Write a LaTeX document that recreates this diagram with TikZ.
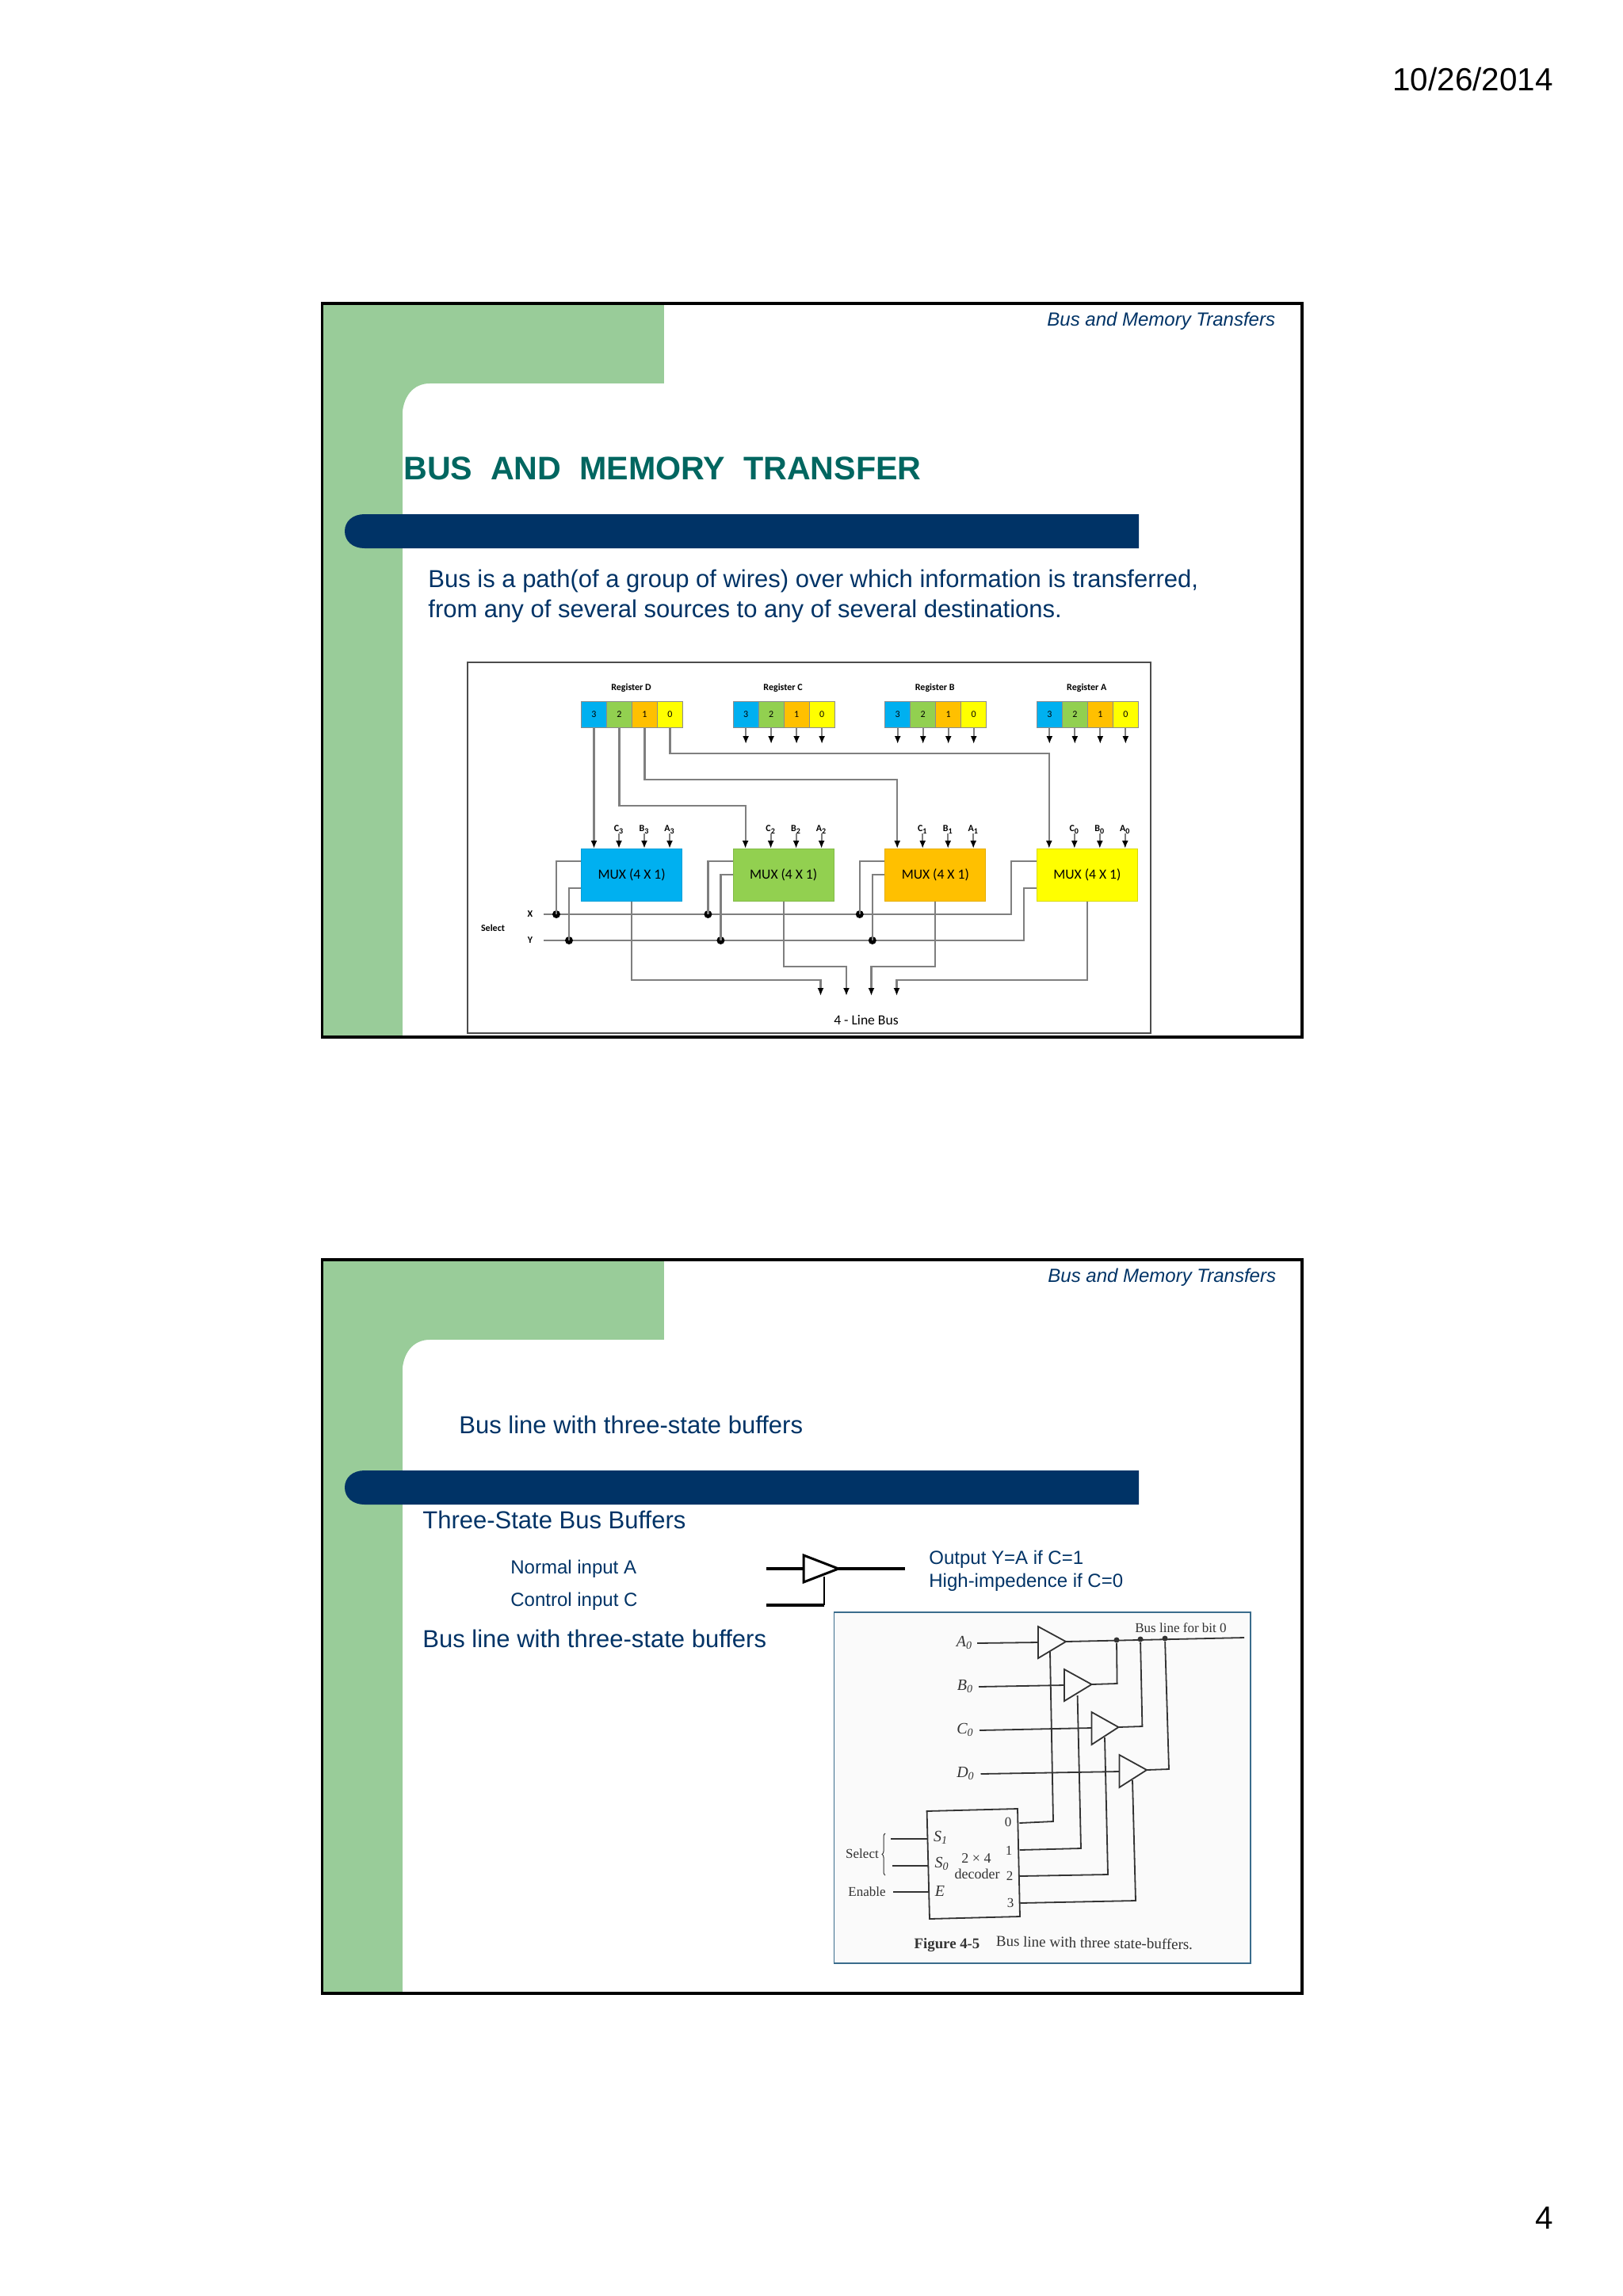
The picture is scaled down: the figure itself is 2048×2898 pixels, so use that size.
\documentclass[tikz,border=0pt]{standalone}
\usepackage{fontspec}
\setmainfont{Liberation Sans}
\newfontfamily\calib{Carlito}
\newfontfamily\serifb{Liberation Serif}
\usetikzlibrary{arrows.meta,decorations.pathreplacing}
\definecolor{slgreen}{HTML}{99CC99}
\definecolor{slnavy}{HTML}{003366}
\definecolor{slteal}{HTML}{006660}
\definecolor{cblue}{HTML}{00B0F0}
\definecolor{cgreen}{HTML}{92D050}
\definecolor{corange}{HTML}{FFC000}
\definecolor{cyellow}{HTML}{FFFF00}
\definecolor{wirec}{HTML}{7F7F7F}
\definecolor{figline}{HTML}{333333}
\definecolor{figborder}{HTML}{3A6C8C}
\tikzset{
  px/.style={font=\fontsize{#1}{#1}\selectfont},
  lefttext/.style={anchor=base west,inner sep=0pt,text=slnavy},
  wire/.style={draw=wirec,line width=1.1pt},
  awire/.style={wire,-{Latex[black,length=5pt,width=4pt]}},
  jdot/.style={circle,fill=black,inner sep=0pt,minimum size=5pt},
  regcell/.style={draw=black!45,line width=.5pt,minimum width=16pt,minimum height=16.5pt,inner sep=0pt,anchor=north west,font=\calib\fontsize{6}{6}\selectfont},
  muxbox/.style={line width=.6pt,minimum width=63.5pt,minimum height=33pt,inner sep=0pt,anchor=north west,font=\calib\fontsize{8.8}{8.8}\selectfont},
  smalllab/.style={font=\calib\bfseries\fontsize{6}{6}\selectfont,inner sep=0pt},
  figw/.style={draw=figline,line width=.9pt},
  figj/.style={circle,fill=figline,inner sep=0pt,minimum size=3.5pt},
  figt/.style={inner sep=0pt,text=figline,font=\serifb\fontsize{8.5}{8.5}\selectfont},
  figi/.style={inner sep=0pt,text=figline,font=\serifb\itshape\fontsize{10}{10}\selectfont},
}
\newcommand{\slideback}[1]{%
  \begin{scope}[yshift=-#1*0.5pt]
  \fill[slgreen] (406,383) rectangle (838,484);
  \fill[slgreen] (406,484) rectangle (507.5,1309);
  \fill[slgreen] (507,484) -- (542,484) .. controls (522,484) and (507.5,500) .. (507.5,527) -- cycle;
  \fill[slnavy] (1437,649) -- (460,649) .. controls (445,649) and (435,658) .. (435,670.5) .. controls (435,683) and (445,692) .. (460,692) -- (1437,692) -- cycle;
  \draw[black,line width=1.6pt] (406.5,383) rectangle (1643,1309);
  \end{scope}}
\newcommand{\tribuf}[6]{%
  \coordinate (#1in) at (#2,#4);
  \coordinate (#1out) at (#3,#4);
  \filldraw[figw,fill=black!2] (#2,#5) -- (#1out) -- (#2,#6) -- cycle;
}
\begin{document}
\begin{tikzpicture}[x=0.5pt,y=-0.5pt]
\useasboundingbox (0,0) rectangle (2048,2898);
\fill[white] (0,0) rectangle (2048,2898);
\node[anchor=base east,inner sep=0pt,px=20.2] (date) at (1960,114) {10/26/2014};
\node[anchor=base east,inner sep=0pt,px=20.2] (pageno) at (1960,2813) {4};
\slideback{0}
\slideback{1207}
% slide 1 text
\node[lefttext,font=\itshape\fontsize{12}{12}\selectfont] (hdra) at (1321,411) {Bus and Memory Transfers};
\node[lefttext,text=slteal,font=\bfseries\fontsize{20.6}{20.6}\selectfont] (title) at (509,605) {BUS\ \ AND\ \ MEMORY\ \ TRANSFER};
\node[lefttext,px=15.5] (bodya) at (540,741) {Bus is a path(of a group of wires) over which information is transferred,};
\node[lefttext,px=15.5] (bodyb) at (540,779) {from any of several sources to any of several destinations.};
% MUX figure
\draw[draw=black!70,line width=.7pt,fill=white] (590,836) rectangle (1452,1304);
\foreach \n/\off/\L/\i in {D/0/D/3,C/1/C/2,B/2/B/1,A/3/A/0}{
  \pgfmathsetmacro\bx{733+191.6*\off}
  \node[smalllab] (lab\n) at (\bx+63.5,868) {Register \L};
  \node[regcell,fill=cblue] (r\n3) at (\bx,885) {3};
  \node[regcell,fill=cgreen] (r\n2) at (\bx+32,885) {2};
  \node[regcell,fill=corange] (r\n1) at (\bx+64,885) {1};
  \node[regcell,fill=cyellow] (r\n0) at (\bx+96,885) {0};
}
\node[muxbox,draw=cblue!90!black,fill=cblue] (m3) at (733,1071) {MUX (4 X 1)};
\node[muxbox,draw=cgreen!90!black,fill=cgreen] (m2) at (924.6,1071) {MUX (4 X 1)};
\node[muxbox,draw=corange!90!black,fill=corange] (m1) at (1116.2,1071) {MUX (4 X 1)};
\node[muxbox,draw=cyellow!85!black,fill=cyellow] (m0) at (1307.8,1071) {MUX (4 X 1)};
% outputs of registers C, B, A
\foreach \n in {C,B,A}{\foreach \k in {3,2,1,0}{
  \coordinate (e\n\k) at ([yshift=-10pt]r\n\k.south);
  \draw[awire] (r\n\k.south) -- (e\n\k);
}}
% register D to muxes
\draw[awire] (rD3.south) -- (rD3.south |- m3.north);
\path (m2.north west) ++(16,0) coordinate (t2);
\path (m1.north west) ++(16,0) coordinate (t1);
\path (m0.north west) ++(16,0) coordinate (t0);
\coordinate (bd2) at (rD2.south |- 0,1017);
\coordinate (bd1) at (rD1.south |- 0,984);
\coordinate (bd0) at (rD0.south |- 0,951);
\draw[awire] (rD2.south) -- (bd2) -- (bd2 -| t2) -- (t2);
\draw[awire] (rD1.south) -- (bd1) -- (bd1 -| t1) -- (t1);
\draw[awire] (rD0.south) -- (bd0) -- (bd0 -| t0) -- (t0);
% mux data inputs
\foreach \m/\s in {m3/3,m2/2,m1/1,m0/0}{
  \foreach \d in {48,80,112}{
    \path (\m.north west) ++(\d,0) coordinate (q);
    \coordinate (qs) at ([yshift=9.5pt]q);
    \draw[awire] (qs) -- (q);
  }
  \path (\m.north west) ++(48,-24) node[smalllab] (l\m c) {C\textsubscript{\s}};
  \path (\m.north west) ++(80,-24) node[smalllab] (l\m b) {B\textsubscript{\s}};
  \path (\m.north west) ++(112,-24) node[smalllab] (l\m a) {A\textsubscript{\s}};
}
% select lines
\node[smalllab] (selX) at (669,1154) {X};
\node[smalllab] (selY) at (669,1187) {Y};
\node[smalllab] (selS) at (622,1171) {Select};
\coordinate (xs) at (686,1154);
\coordinate (ys) at (686,1187);
\draw[wire] (xs) -- (1276,1154) -- (1276,1087) -- (m0.west |- 0,1087);
\draw[wire] (ys) -- (1292,1187) -- (1292,1121) -- (m0.west |- 0,1121);
\node[jdot] (dx3) at (702,1154) {};
\node[jdot] (dx2) at (893.4,1154) {};
\node[jdot] (dx1) at (1084.8,1154) {};
\node[jdot] (dy3) at (718,1187) {};
\node[jdot] (dy2) at (909.4,1187) {};
\node[jdot] (dy1) at (1100.8,1187) {};
\draw[wire] (dx3.center) |- (m3.west |- 0,1087);
\draw[wire] (dx2.center) |- (m2.west |- 0,1087);
\draw[wire] (dx1.center) |- (m1.west |- 0,1087);
\draw[wire] (dy3.center) |- (m3.west |- 0,1121);
\draw[wire] (dy2.center) |- (m2.west |- 0,1104);
\draw[wire] (dy1.center) |- (m1.west |- 0,1104);
% bus outputs
\coordinate (b3) at (1035.5,1257);
\coordinate (b2) at (1068,1257);
\coordinate (b1) at (1099.5,1257);
\coordinate (b0) at (1131.5,1257);
\draw[awire] (m3.south) -- (m3.south |- 0,1237) -- (b3 |- 0,1237) -- (b3);
\draw[awire] (m2.south) -- (m2.south |- 0,1220) -- (b2 |- 0,1220) -- (b2);
\draw[awire] (m1.south) -- (m1.south |- 0,1220) -- (b1 |- 0,1220) -- (b1);
\draw[awire] (m0.south) -- (m0.south |- 0,1237) -- (b0 |- 0,1237) -- (b0);
\node[inner sep=0pt,font=\calib\fontsize{8.8}{8.8}\selectfont] (buslab) at (1093,1287) {4 - Line Bus};
% slide 2 text
\node[lefttext,font=\itshape\fontsize{12}{12}\selectfont] (hdrb) at (1322,1618) {Bus and Memory Transfers};
\node[lefttext,px=15.5] (st) at (579,1809) {Bus line with three-state buffers};
\node[lefttext,px=15.5] (tsb) at (533,1929) {Three-State Bus Buffers};
\node[lefttext,px=12] (na) at (644,1986) {Normal input A};
\node[lefttext,px=12] (cc) at (644,2027) {Control input C};
\node[lefttext,px=15.5] (bl) at (533,2079) {Bus line with three-state buffers};
\node[lefttext,px=12] (oy) at (1172,1974) {Output Y=A if C=1};
\node[lefttext,px=12] (hi) at (1172,2003) {High-impedence if C=0};
% three-state symbol
\coordinate (tsi) at (1014,1980);
\coordinate (tso) at (1058,1980);
\coordinate (tsa) at (967,1980);
\coordinate (tsy) at (1142,1980);
\coordinate (tsc) at (967,2026);
\coordinate (tsk) at (1040,2026);
\draw[black,line width=2pt] (tsa) -- (tsi);
\draw[black,line width=2pt] (tso) -- (tsy);
\draw[black,line width=2pt] (tsc) -- (tsk);
\draw[black,line width=1.2pt] (tsk) -- (1040,1990);
\draw[black,line width=1.5pt,fill=white,line join=miter] (1014,1963) -- (tso) -- (1014,1997) -- cycle;
% scanned figure
\draw[draw=figborder,line width=.7pt,fill=black!2] (1052.5,2035) rectangle (1578,2478);
\draw[figw] (1233,2074) -- (1310,2073);
\draw[figw] (1235,2129) -- (1343,2127);
\draw[figw] (1236,2184) -- (1377.5,2181);
\draw[figw] (1237.5,2239) -- (1412.5,2236);
% decoder box
\draw[figw,fill=black!2] (1169.6,2286) -- (1284,2283) -- (1287,2419) -- (1173,2422) -- cycle;
% enable lines
\coordinate (o0) at (1286.4,2301);
\coordinate (o1) at (1286.6,2335);
\coordinate (o2) at (1287,2368);
\coordinate (o3) at (1287.4,2402);
\draw[figw] (o0) -- (1329,2299) -- (1325,2085);
\draw[figw] (o1) -- (1364,2333) -- (1359.6,2140);
\draw[figw] (o2) -- (1398,2366) -- (1394,2193);
\draw[figw] (o3) -- (1433,2399) -- (1429,2247);
% buffers
\tribuf{a}{1310}{1345}{2072}{2053}{2093}
\tribuf{b}{1343}{1377.5}{2126}{2107}{2147}
\tribuf{c}{1377.5}{1411.4}{2180}{2161}{2202}
\tribuf{d}{1412.5}{1447}{2234}{2215}{2256}
% bus line
\coordinate (busend) at (1570,2067);
\node[figj] (j1) at (1409,2070) {};
\node[figj] (j2) at (1439,2069) {};
\node[figj] (j3) at (1470,2068) {};
\draw[figw] (aout) -- (busend);
\draw[figw] (bout) -- (1409.6,2125) -- (j1);
\draw[figw] (cout) -- (1441.4,2179) -- (j2);
\draw[figw] (dout) -- (1475,2233) -- (j3);
% decoder labels
\node[figi] (s1) at (1187,2319) {S\textsubscript{1}};
\node[figi] (s0) at (1188.5,2352) {S\textsubscript{0}};
\node[figi] (ee) at (1186,2387) {E};
\node[figt] (o0l) at (1272,2300) {0};
\node[figt] (o1l) at (1273,2336) {1};
\node[figt] (o2l) at (1274,2368) {2};
\node[figt] (o3l) at (1275,2402) {3};
\node[figt,font=\serifb\fontsize{9}{9}\selectfont] (twobyfour) at (1232,2346) {2 × 4};
\node[figt,font=\serifb\fontsize{9}{9}\selectfont] (deco) at (1233,2365) {decoder};
\node[figt] (sel) at (1088,2340) {Select};
\node[figt] (enb) at (1094,2388) {Enable};
\draw[figw] (1124,2321) -- (1170.3,2321);
\draw[figw] (1126,2355) -- (1171,2355);
\draw[figw] (1127,2388) -- (1172,2388);
\draw[figw,line width=.5pt,decorate,decoration={brace,amplitude=2pt}] (1117,2367) -- (1117,2314);
\node[figi] (a0l) at (1217,2073) {A\textsubscript{0}};
\node[figi] (b0l) at (1218,2128) {B\textsubscript{0}};
\node[figi] (c0l) at (1218,2183) {C\textsubscript{0}};
\node[figi] (d0l) at (1218.5,2238) {D\textsubscript{0}};
\node[figt] (busbit) at (1490,2055) {Bus line for bit 0};
\node[figt,font=\serifb\bfseries\fontsize{9.4}{9.4}\selectfont] (figno) at (1195,2455) {Figure 4-5};
\node[figt,rotate=-1,font=\serifb\fontsize{9.5}{9.5}\selectfont] (figcap) at (1381,2452) {Bus line with three state-buffers.};
\end{tikzpicture}
\end{document}
